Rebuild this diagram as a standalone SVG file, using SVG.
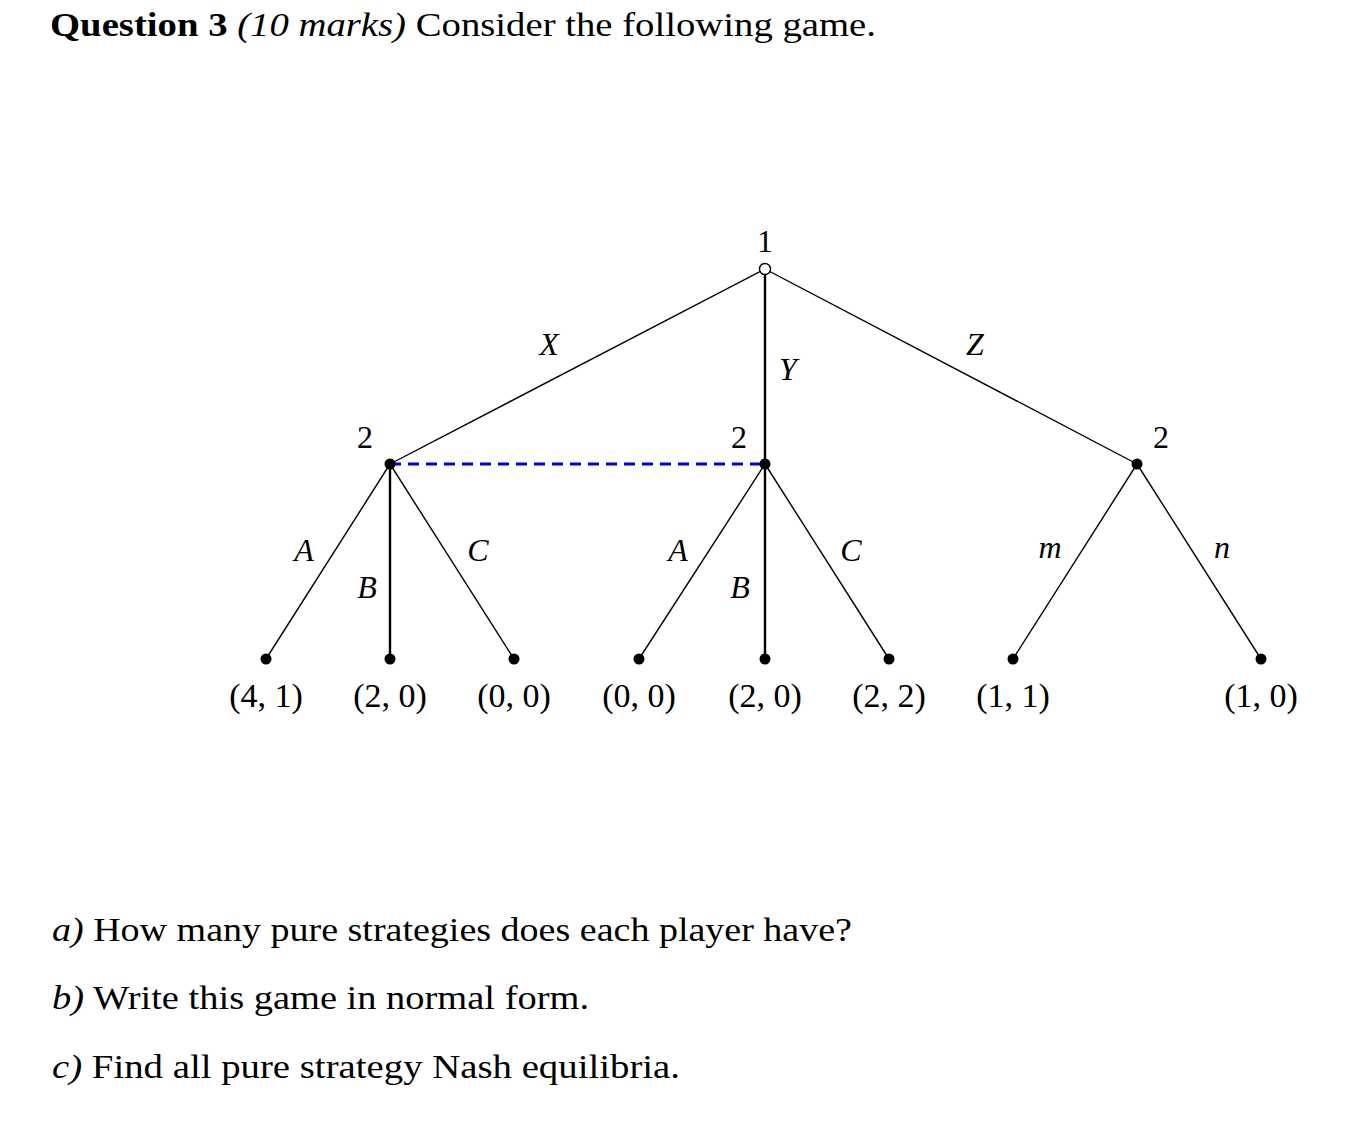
<svg xmlns="http://www.w3.org/2000/svg" width="1370" height="1126" viewBox="0 0 1370 1126">
<style>
text{font-family:"Liberation Serif","Times New Roman",serif;fill:#000}
.i{font-style:italic}
.lab{font-size:32px;text-anchor:middle}
.pay{font-size:34px;text-anchor:middle}
.q{font-size:34px}
.edge{stroke:#000;stroke-width:1.4;fill:none}
.vert{stroke:#000;stroke-width:2.4;fill:none}
.dot{fill:#000}
</style>
<rect width="1370" height="1126" fill="#fff"/>
<text class="q" x="50" y="36" textLength="826" lengthAdjust="spacingAndGlyphs"><tspan font-weight="bold">Question 3</tspan> <tspan class="i">(10 marks)</tspan> Consider the following game.</text>

<g id="connectors">
<line class="edge" x1="765" y1="269" x2="390" y2="464"/>
<line class="vert" x1="765" y1="274" x2="765" y2="464"/>
<line class="edge" x1="765" y1="269" x2="1137" y2="464"/>
<line x1="390" y1="464" x2="765" y2="464" stroke="#0000dd" stroke-width="3" stroke-dasharray="11 7"/>
<line class="edge" x1="390" y1="464" x2="266" y2="659"/>
<line class="vert" x1="390" y1="464" x2="390" y2="659"/>
<line class="edge" x1="390" y1="464" x2="514" y2="659"/>
<line class="edge" x1="765" y1="464" x2="639" y2="659"/>
<line class="vert" x1="765" y1="464" x2="765" y2="659"/>
<line class="edge" x1="765" y1="464" x2="889" y2="659"/>
<line class="edge" x1="1137" y1="464" x2="1013" y2="659"/>
<line class="edge" x1="1137" y1="464" x2="1261" y2="659"/>
</g>

<g id="edge-labels">
<text class="lab i" x="549" y="355">X</text>
<text class="lab i" x="788" y="380">Y</text>
<text class="lab i" x="975" y="355">Z</text>
<text class="lab i" x="304" y="561">A</text>
<text class="lab i" x="367" y="598">B</text>
<text class="lab i" x="478" y="561">C</text>
<text class="lab i" x="678" y="561">A</text>
<text class="lab i" x="740" y="598">B</text>
<text class="lab i" x="851" y="561">C</text>
<text class="lab i" x="1050" y="558">m</text>
<text class="lab i" x="1222" y="558">n</text>
</g>

<g id="node-root">
<circle cx="765" cy="269" r="5.5" fill="#fff" stroke="#000" stroke-width="1.4"/>
<text class="lab" x="765" y="252" font-size="30">1</text>
</g>
<g id="node-x">
<circle class="dot" cx="390" cy="464" r="5.5"/>
<text class="lab" x="365" y="448" font-size="30">2</text>
</g>
<g id="node-y">
<circle class="dot" cx="765" cy="464" r="5.5"/>
<text class="lab" x="739" y="448" font-size="30">2</text>
</g>
<g id="node-z">
<circle class="dot" cx="1137" cy="464" r="5.5"/>
<text class="lab" x="1161" y="448" font-size="30">2</text>
</g>

<g id="leaf-1"><circle class="dot" cx="266" cy="659" r="5.5"/><text class="pay" x="266" y="707">(4, 1)</text></g>
<g id="leaf-2"><circle class="dot" cx="390" cy="659" r="5.5"/><text class="pay" x="390" y="707">(2, 0)</text></g>
<g id="leaf-3"><circle class="dot" cx="514" cy="659" r="5.5"/><text class="pay" x="514" y="707">(0, 0)</text></g>
<g id="leaf-4"><circle class="dot" cx="639" cy="659" r="5.5"/><text class="pay" x="639" y="707">(0, 0)</text></g>
<g id="leaf-5"><circle class="dot" cx="765" cy="659" r="5.5"/><text class="pay" x="765" y="707">(2, 0)</text></g>
<g id="leaf-6"><circle class="dot" cx="889" cy="659" r="5.5"/><text class="pay" x="889" y="707">(2, 2)</text></g>
<g id="leaf-7"><circle class="dot" cx="1013" cy="659" r="5.5"/><text class="pay" x="1013" y="707">(1, 1)</text></g>
<g id="leaf-8"><circle class="dot" cx="1261" cy="659" r="5.5"/><text class="pay" x="1261" y="707">(1, 0)</text></g>

<text class="q" x="52" y="941" textLength="800" lengthAdjust="spacingAndGlyphs"><tspan class="i">a)</tspan> How many pure strategies does each player have?</text>
<text class="q" x="52" y="1009" textLength="537" lengthAdjust="spacingAndGlyphs"><tspan class="i">b)</tspan> Write this game in normal form.</text>
<text class="q" x="52" y="1078" textLength="628" lengthAdjust="spacingAndGlyphs"><tspan class="i">c)</tspan> Find all pure strategy Nash equilibria.</text>
</svg>
